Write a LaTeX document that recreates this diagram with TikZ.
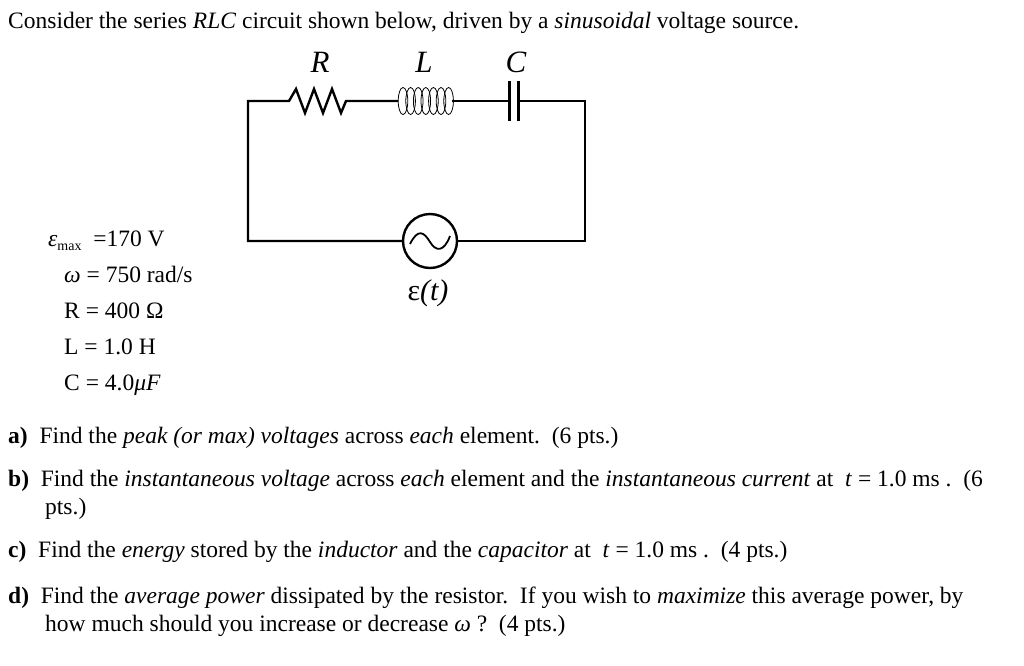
\documentclass[tikz,border=0pt]{standalone}
\usepackage{fontspec}
\setmainfont{Liberation Serif}
\begin{document}
\begin{tikzpicture}[x=1pt,y=-1pt,
  txt/.style={anchor=base west,inner sep=0pt,font=\fontsize{23.5}{26}\selectfont},
  lbl/.style={anchor=base,inner sep=0pt,font=\fontsize{31}{33}\selectfont\itshape},
  wire/.style={line width=2.4pt,line join=miter}]
\useasboundingbox (0,0) rectangle (1024,665);
\node[txt] (t0) at (8,28) {Consider the series \textit{RLC} circuit shown below, driven by a \textit{sinusoidal} voltage source.};
% circuit
\coordinate (tl) at (248,101);
\coordinate (tr) at (585,101);
\coordinate (bl) at (248,241);
\coordinate (br) at (585,241);
\coordinate (r1) at (283,101);
\coordinate (r2) at (352,101);
\coordinate (l1) at (398,101);
\coordinate (l2) at (452,101);
\coordinate (c1) at (509,101);
\coordinate (c2) at (518,101);
\node[circle,draw,line width=2.4pt,minimum size=54pt,inner sep=0pt] (src) at (430,241) {};
\draw[wire] (src.west) -- (bl) -- (tl) -- (r1)
  -- ++(6,0) -- ++(7,-12) -- ++(9,24) -- ++(9,-24) -- ++(9,24) -- ++(9,-24) -- ++(9,24) -- ++(5,-12) -- (r2) -- (l1);
\draw[wire] (l2) -- (c1);
\draw[wire] (c2) -- (tr) -- (br) -- (src.east);
\draw[line width=3pt] (509,81) -- (509,121) (518,81) -- (518,121);
% inductor coils
\foreach \i in {0,...,6}{
  \draw[line width=0.8pt] (403+\i*7.6,101) ellipse (4.8 and 13.5);
}
% sine in source
\draw[line width=1.8pt] (410,244) .. controls (418,228) and (424,232) .. (430,242) .. controls (436,252) and (444,252) .. (450,236);
\node[lbl] (lR) at (320,72) {R};
\node[lbl] (lL) at (424,72) {L};
\node[lbl] (lC) at (516,72) {C};
\node[anchor=base,inner sep=0pt,font=\fontsize{30}{32}\selectfont] (eps) at (428,300) {ε\textit{(t)}};
% parameters
\node[txt] (p1) at (48,246) {\textit{ε}\raisebox{-4pt}{\fontsize{14}{15}\selectfont max}\ \ =170 V};
\node[txt] (p2) at (64,282) {\textit{ω} = 750 rad/s};
\node[txt] (p3) at (64,318) {R = 400 Ω};
\node[txt] (p4) at (64,354) {L = 1.0 H};
\node[txt] (p5) at (64,390) {C = 4.0\textit{μF}};
% questions
\node[txt] (qa) at (8,443) {\textbf{a)}\ \ Find the \textit{peak (or max) voltages} across \textit{each} element.\ \ (6 pts.)};
\node[txt] (qb) at (8,486) {\textbf{b)}\ \ Find the \textit{instantaneous voltage} across \textit{each} element and the \textit{instantaneous current} at \ \textit{t} = 1.0 ms .\ \ (6};
\node[txt] (qb2) at (45,514) {pts.)};
\node[txt] (qc) at (8,557) {\textbf{c)}\ \ Find the \textit{energy} stored by the \textit{inductor} and the \textit{capacitor} at \ \textit{t} = 1.0 ms .\ \ (4 pts.)};
\node[txt] (qd) at (8,603) {\textbf{d)}\ \ Find the \textit{average power} dissipated by the resistor.\ \ If you wish to \textit{maximize} this average power, by};
\node[txt] (qd2) at (45,631) {how much should you increase or decrease \textit{ω} ?\ \ (4 pts.)};
\end{tikzpicture}
\end{document}
